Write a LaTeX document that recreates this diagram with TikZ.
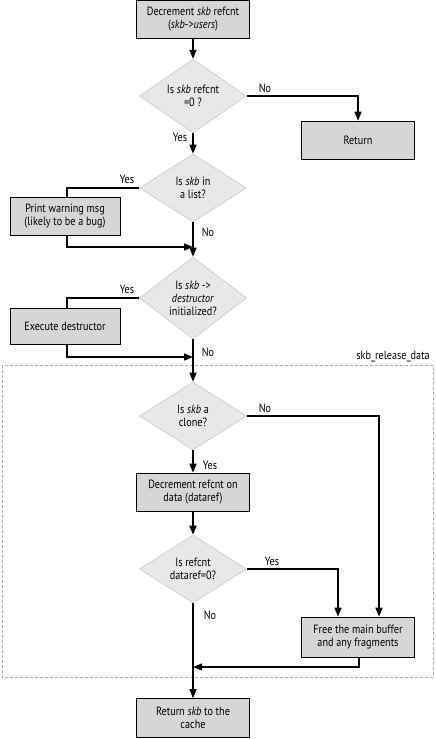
\documentclass[tikz,border=0pt]{standalone}
\usepackage{fontspec}
\setmainfont{PT Sans}[FakeStretch=0.85]
\usetikzlibrary{shapes.geometric,arrows.meta,calc}
\definecolor{boxgray}{HTML}{D6D6D6}
\definecolor{diagray}{HTML}{E8E8E8}
\definecolor{diaborder}{HTML}{C8C8C8}
\definecolor{dashgray}{HTML}{AAAAAA}
\tikzset{
  stepbox/.style={draw=black, line width=0.6pt, fill=boxgray, minimum width=113pt,
    minimum height=38pt, align=center, inner sep=0pt, font=\fontsize{12}{13}\selectfont},
  decision/.style={diamond, draw=diaborder, line width=0.6pt, fill=diagray, minimum width=107pt,
    minimum height=68pt, align=center, inner sep=0pt, font=\fontsize{12}{13}\selectfont},
  arr/.style={draw, line width=1.4pt, -{Triangle[width=7pt,length=9pt]}},
  plain/.style={draw, line width=1.4pt},
  lbl/.style={font=\fontsize{12}{13}\selectfont, inner sep=1pt}
}
\begin{document}
\begin{tikzpicture}[x=1pt,y=-1pt]
\useasboundingbox (0,0) rectangle (436,739);
% dashed region
\draw[dashgray, line width=0.7pt, dash pattern=on 3pt off 2pt] (2,365) rectangle (433,677);
\node[lbl, anchor=south east] (rel) at (431,363) {skb\_release\_data};

\node[stepbox] (b1) at (193,19) {Decrement \textit{skb} refcnt\\(\textit{skb}->\textit{users})};
\node[decision] (d1) at (193,96) {Is \textit{skb} refcnt\\=0 ?};
\node[stepbox] (ret) at (358,140) {Return};
\node[decision] (d2) at (193,188) {Is \textit{skb} in\\a list?};
\node[stepbox, minimum width=110pt] (pw) at (65,216) {Print warning msg\\(likely to be a bug)};
\node[decision, minimum height=72pt] (d3) at (193,298) {Is \textit{skb} ->\\\textit{destructor}\\initialized?};
\node[stepbox, minimum width=110pt, minimum height=36pt] (ed) at (65,326) {Execute destructor};
\node[decision] (d4) at (193,416) {Is \textit{skb} a\\clone?};
\node[stepbox] (dr) at (193,492) {Decrement refcnt on\\data (dataref)};
\node[decision] (d5) at (193,569) {Is refcnt\\dataref=0?};
\node[stepbox, minimum height=40pt] (free) at (358,637) {Free the main buffer\\and any fragments};
\node[stepbox, minimum height=39pt] (rs) at (193,718) {Return \textit{skb} to the\\cache};

\coordinate (j1) at (193,247);
\coordinate (j2) at (193,357);
\coordinate (j3) at (193,667);

\draw[arr] (b1) -- (d1);
\draw[arr] (d1.east) -| (ret.north);
\draw[arr] (d1) -- (d2);
\draw[plain] (d2.west) -| ([xshift=2pt]pw.north);
\draw[arr] ([xshift=2pt]pw.south) |- (j1);
\draw[arr] (d2) -- (d3);
\draw[plain] (d3.west) -| ([xshift=2pt]ed.north);
\draw[arr] ([xshift=2pt]ed.south) |- (j2);
\draw[arr] (d3) -- (d4);
\draw[arr] (d4.east) -| ([xshift=21pt]free.north);
\draw[arr] (d4) -- (dr);
\draw[arr] (dr) -- (d5);
\draw[arr] (d5.east) -| ([xshift=-20pt]free.north);
\draw[arr] ([xshift=1pt]free.south) |- (j3);
\draw[arr] (d5) -- (rs);

\node[lbl] at (265,88) {No};
\node[lbl] at (180,137) {Yes};
\node[lbl] at (127,179) {Yes};
\node[lbl] at (208,232) {No};
\node[lbl] at (127,289) {Yes};
\node[lbl] at (208,352) {No};
\node[lbl] at (265,408) {No};
\node[lbl] at (210,465) {Yes};
\node[lbl] at (272,561) {Yes};
\node[lbl] at (210,615) {No};
\end{tikzpicture}
\end{document}
